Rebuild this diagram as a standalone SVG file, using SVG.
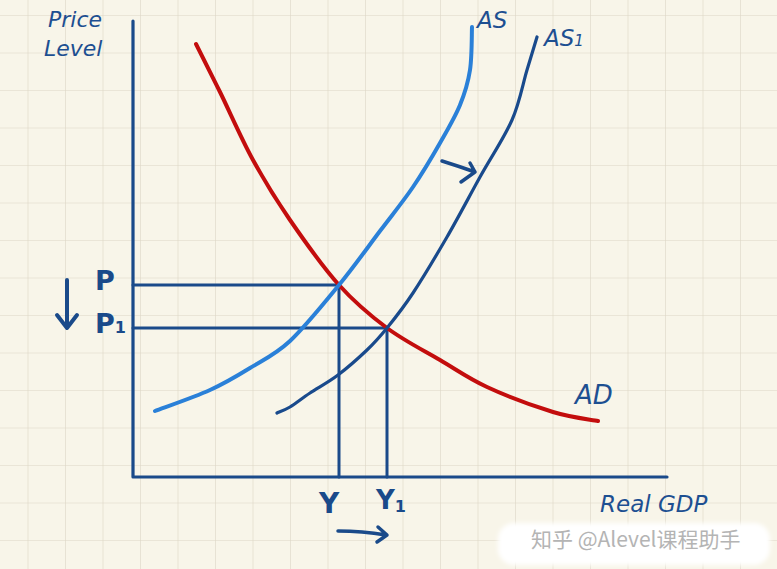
<svg xmlns="http://www.w3.org/2000/svg" width="777" height="569" viewBox="0 0 777 569">
<defs>
<pattern id="grid" patternUnits="userSpaceOnUse" x="27.5" y="15" width="37.5" height="37.5">
<path d="M0 0H37.5M0 0V37.5" fill="none" stroke="#dcd6c5" stroke-width="1.2"/>
</pattern>
<filter id="blur" x="-10%" y="-30%" width="120%" height="160%"><feGaussianBlur stdDeviation="2"/></filter>
</defs>
<style>
.ink{fill:none;stroke:#1a4a8a;stroke-linecap:round;stroke-linejoin:round}
.curve{fill:none;stroke-linecap:round;stroke-linejoin:round}
.lbl{font-family:"DejaVu Sans",sans-serif;font-style:italic;fill:#1d4f91}
.bold{font-family:"DejaVu Sans",sans-serif;font-weight:bold;fill:#1a4a8a}
</style>
<rect width="777" height="569" fill="#f8f5e9"/>
<rect width="777" height="569" fill="url(#grid)"/>

<g id="axes">
<path class="ink" stroke-width="3.2" d="M133 21V477H667"/>
</g>

<g id="connectors">
<path class="ink" stroke-width="3" d="M133 285H339V477"/>
<path class="ink" stroke-width="3" d="M133 328H387V477"/>
</g>

<g id="AD">
<path class="curve" stroke="#c30d0d" stroke-width="4" d="M196 44C200 52 210.5 72.7 220 92C229.5 111.3 241.3 138.7 253 160C264.7 181.3 275.7 199.2 290 220C304.3 240.8 322.8 267 339 285C355.2 303 370.2 315.5 387 328C403.8 340.5 423.3 350.2 440 360C456.7 369.8 468.2 378.3 487 387C505.8 395.7 534.5 406.3 553 412C571.5 417.7 590.5 419.5 598 421"/>
</g>

<g id="AS">
<path class="curve" stroke="#2a80d8" stroke-width="4" d="M155 411C164.2 407.5 194.2 397.2 210 390C225.8 382.8 236.7 376.2 250 368C263.3 359.8 275.2 354.8 290 341C304.8 327.2 324 303.3 339 285C354 266.7 367.7 247.3 380 231C392.3 214.7 403 201.7 413 187C423 172.3 432.2 156.7 440 143C447.8 129.3 455 117.2 460 105C465 92.8 468 83 470 70C472 57 471.7 34.2 472 27"/>
</g>

<g id="AS1">
<path class="curve" stroke="#194a8c" stroke-width="3.2" d="M277 413C279.2 412 284.5 410.3 290 407C295.5 403.7 302 398.3 310 393C318 387.7 328.5 382.2 338 375C347.5 367.8 358.8 357.8 367 350C375.2 342.2 379.3 337.5 387 328C394.7 318.5 403 308.2 413 293C423 277.8 435.8 256.3 447 237C458.2 217.7 469.2 196.5 480 177C490.8 157.5 504.2 137.8 512 120C519.8 102.2 522.8 83.8 527 70C531.2 56.2 535.3 42.5 537 37"/>
</g>

<g id="shift-arrows">
<path class="ink" stroke-width="3.5" d="M442 161Q458 166 475 172M470 163L475 172L461 182"/>
<path class="ink" stroke-width="4" d="M67 280V327M57 315L67 328L77 315"/>
<path class="ink" stroke-width="3.5" d="M338 531Q362 531 386 535M378 527L387 535L377 542"/>
</g>

<g id="labels">
<text class="lbl" x="48" y="27" font-size="22">Price</text>
<text class="lbl" x="44" y="56" font-size="22">Level</text>
<text class="lbl" x="477" y="28" font-size="23">AS</text>
<text class="lbl" x="544" y="46" font-size="23">AS<tspan font-size="15">1</tspan></text>
<text class="lbl" x="575" y="404" font-size="26">AD</text>
<text class="lbl" x="600" y="512" font-size="23">Real  GDP</text>
<text class="bold" x="95" y="290" font-size="27">P</text>
<text class="bold" x="95" y="333" font-size="27">P<tspan font-size="16">1</tspan></text>
<text class="bold" x="319" y="513" font-size="28">Y</text>
<text class="bold" x="376" y="509" font-size="26">Y<tspan font-size="16" dy="3">1</tspan></text>
</g>

<g id="watermark">
<rect x="498" y="523" width="272" height="42" rx="16" fill="#ffffff" filter="url(#blur)"/>
<text x="531" y="547" font-size="21" fill="#b4b4b4" font-family="'Noto Sans CJK SC',sans-serif">知乎 @Alevel课程助手</text>
</g>
</svg>
